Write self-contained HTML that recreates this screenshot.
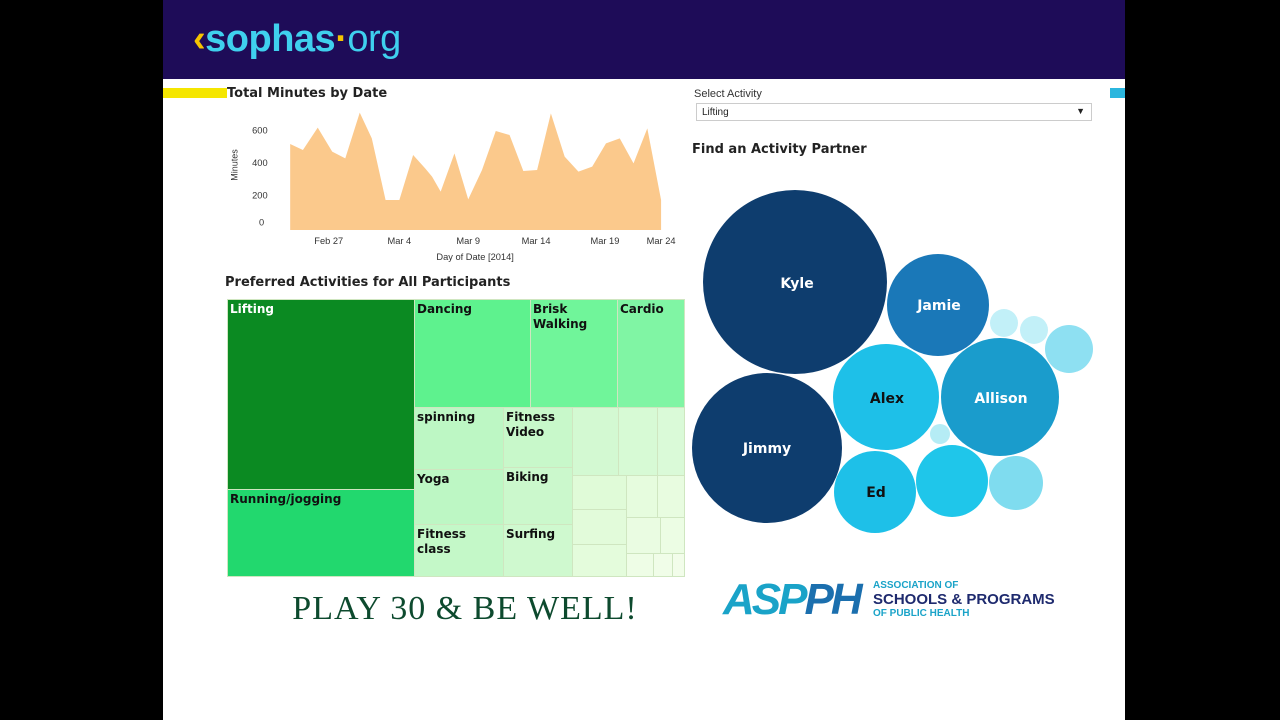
<!DOCTYPE html>
<html><head><meta charset="utf-8"><style>
body{margin:0;width:1280px;height:720px;background:#000;position:relative;overflow:hidden;font-family:"Liberation Sans",sans-serif}
.a{position:absolute}
.c{position:absolute;box-sizing:border-box;border:1px solid #cfe6c0;font-family:"DejaVu Sans",sans-serif;font-weight:bold;font-size:12px;color:#111;padding:2px 2px;line-height:15px}
.t{font-family:"DejaVu Sans",sans-serif;font-weight:bold;font-size:13px;color:#222}
</style></head><body>
<div class="a" style="left:163px;top:0;width:962px;height:720px;background:#fff"></div>
<div class="a" style="left:163px;top:0;width:962px;height:79px;background:#1e0c58"></div>
<div class="a" style="left:193px;top:18px;font-size:38px;font-weight:bold;color:#3fd0ee;letter-spacing:-0.5px"><span style="color:#f5c400">&lsaquo;</span>sophas<span style="color:#f5c400">&middot;</span><span style="font-weight:normal">org</span></div>
<div class="a" style="left:163px;top:88px;width:64px;height:10px;background:#f5e600"></div>
<div class="a" style="left:1110px;top:88px;width:15px;height:10px;background:#2bb6de"></div>
<div class="a t" style="left:227px;top:86px">Total Minutes by Date</div>
<svg class="a" style="left:160px;top:0" width="540" height="270" viewBox="0 0 1568 810" preserveAspectRatio="none">
<polygon fill="#fbc98c" points="378,690 378,432 415,450 458,383 500,455 538,475 580,338 615,415 655,600 695,600 735,465 770,505 790,530 815,575 855,460 895,598 935,510 975,393 1015,405 1055,513 1095,510 1135,340 1175,470 1215,515 1255,500 1295,430 1335,415 1375,490 1415,385 1455,600 1455,690"/>
<g font-family="Liberation Sans" font-size="27" fill="#333" text-anchor="middle">
<text x="290" y="400">600</text><text x="290" y="498">400</text><text x="290" y="596">200</text><text x="295" y="676">0</text>
<text x="490" y="732">Feb 27</text><text x="695" y="732">Mar 4</text><text x="895" y="732">Mar 9</text><text x="1092" y="732">Mar 14</text><text x="1292" y="732">Mar 19</text><text x="1455" y="732">Mar 24</text>
<text x="915" y="780">Day of Date [2014]</text>
<text transform="translate(225,495) rotate(-90)">Minutes</text></g></svg>
<div class="a t" style="left:225px;top:275px">Preferred Activities for All Participants</div>
<div class="c" style="left:227px;top:299px;width:188px;height:191px;background:#0b8a22;color:#fff">Lifting</div>
<div class="c" style="left:227px;top:489px;width:188px;height:88px;background:#22d86e">Running/jogging</div>
<div class="c" style="left:414px;top:299px;width:117px;height:109px;background:#5ef28e">Dancing</div>
<div class="c" style="left:530px;top:299px;width:88px;height:109px;background:#70f59a">Brisk<br>Walking</div>
<div class="c" style="left:617px;top:299px;width:68px;height:109px;background:#80f5a4">Cardio</div>
<div class="c" style="left:414px;top:407px;width:90px;height:63px;background:#bdf7c4">spinning</div>
<div class="c" style="left:414px;top:469px;width:90px;height:56px;background:#bdf7c4">Yoga</div>
<div class="c" style="left:414px;top:524px;width:90px;height:53px;background:#c4f8c8">Fitness<br>class</div>
<div class="c" style="left:503px;top:407px;width:70px;height:61px;background:#c8f8ca">Fitness<br>Video</div>
<div class="c" style="left:503px;top:467px;width:70px;height:58px;background:#cbf8cc">Biking</div>
<div class="c" style="left:503px;top:524px;width:70px;height:53px;background:#cff9cf">Surfing</div>
<div class="c" style="left:572px;top:407px;width:47px;height:69px;background:#d3f9d2"></div>
<div class="c" style="left:618px;top:407px;width:40px;height:69px;background:#d7fad5"></div>
<div class="c" style="left:657px;top:407px;width:28px;height:69px;background:#dafad8"></div>
<div class="c" style="left:572px;top:475px;width:55px;height:35px;background:#e0fbd8"></div>
<div class="c" style="left:572px;top:509px;width:55px;height:36px;background:#e2fbda"></div>
<div class="c" style="left:572px;top:544px;width:55px;height:33px;background:#e4fcdc"></div>
<div class="c" style="left:626px;top:475px;width:32px;height:43px;background:#e6fcde"></div>
<div class="c" style="left:657px;top:475px;width:28px;height:43px;background:#e8fce0"></div>
<div class="c" style="left:626px;top:517px;width:35px;height:37px;background:#eafce2"></div>
<div class="c" style="left:660px;top:517px;width:25px;height:37px;background:#ecfde4"></div>
<div class="c" style="left:626px;top:553px;width:28px;height:24px;background:#eefde6"></div>
<div class="c" style="left:653px;top:553px;width:20px;height:24px;background:#f0fde8"></div>
<div class="c" style="left:672px;top:553px;width:13px;height:24px;background:#f2fdea"></div>
<div class="a" style="left:227px;top:590px;width:476px;text-align:center;font-family:'Liberation Serif',serif;font-size:34px;color:#0d4a2e;letter-spacing:1px">PLAY 30 &amp; BE WELL!</div>
<div class="a" style="left:694px;top:88px;font-size:11px;color:#333">Select Activity</div>
<div class="a" style="left:696px;top:103px;width:396px;height:18px;box-sizing:border-box;border:1px solid #ccc;font-size:10px;padding:3px 5px;color:#222">Lifting<span style="position:absolute;right:6px;top:2px;font-size:9px">&#9660;</span></div>
<div class="a t" style="left:692px;top:142px">Find an Activity Partner</div>
<svg class="a" style="left:680px;top:170px" width="440" height="380" viewBox="680 170 440 380">
<g font-family="DejaVu Sans" font-weight="bold" font-size="14" text-anchor="middle">
<circle cx="795" cy="282" r="92" fill="#0e3d6e"/><text x="797" y="288" fill="#fff">Kyle</text>
<circle cx="938" cy="305" r="51" fill="#1a78b8"/><text x="939" y="310" fill="#fff">Jamie</text>
<circle cx="1004" cy="323" r="14" fill="#c2f0f8"/><circle cx="1034" cy="330" r="14" fill="#c2f0f8"/>
<circle cx="1069" cy="349" r="24" fill="#8ee0f2"/>
<circle cx="886" cy="397" r="53" fill="#1ec0e8"/><text x="887" y="403" fill="#111">Alex</text>
<circle cx="1000" cy="397" r="59" fill="#1a9ccc"/><text x="1001" y="403" fill="#fff">Allison</text>
<circle cx="940" cy="434" r="10" fill="#b5ecf5"/>
<circle cx="767" cy="448" r="75" fill="#0e3d6e"/><text x="767" y="453" fill="#fff">Jimmy</text>
<circle cx="875" cy="492" r="41" fill="#1ec0e8"/><text x="876" y="497" fill="#111">Ed</text>
<circle cx="952" cy="481" r="36" fill="#1fc6ea"/>
<circle cx="1016" cy="483" r="27" fill="#7fdcef"/>
</g></svg>
<div class="a" style="left:723px;top:578px;font-size:44px;font-weight:bold;font-style:italic;color:#1aa3c8;letter-spacing:-3px;line-height:44px">ASP<span style="color:#1b6fae">PH</span></div>
<div class="a" style="left:873px;top:580px;font-weight:bold;color:#1aa3c8;font-size:10px;line-height:11px">ASSOCIATION OF<br><span style="color:#1e2a6e;font-size:15px;line-height:17px">SCHOOLS &amp; PROGRAMS</span><br>OF PUBLIC HEALTH</div>
</body></html>
